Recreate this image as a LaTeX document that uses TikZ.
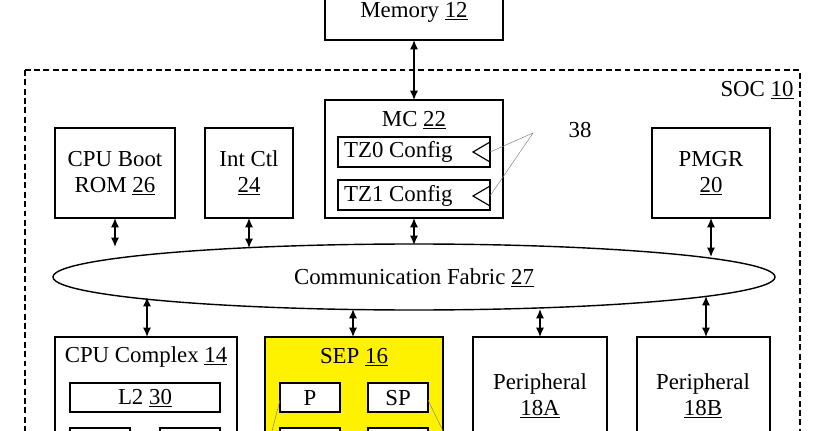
\documentclass[tikz,border=0pt]{standalone}
\usepackage{fontspec}
\setmainfont{Liberation Serif}
\usetikzlibrary{arrows.meta}
\begin{document}
\begin{tikzpicture}[x=0.03cm,y=-0.03cm,
  box/.style={draw,line width=1.2pt,fill=white},
  dbl/.style={{Latex[length=8pt,width=7pt]}-{Latex[length=8pt,width=7pt]},line width=1.2pt},
  lead/.style={draw=gray,thin},
  every node/.style={font=\fontsize{19.5}{22}\selectfont}]
\clip (0,0) rectangle (821,431);
\fill[white] (0,0) rectangle (821,431);
\draw[dash pattern=on 5pt off 3pt,line width=0.9pt] (25,70) rectangle (800,460);
\node at (757,90) {SOC \underline{10}};
\draw[box] (325,-5) rectangle (503,40);
\node (mem) at (414,12) {Memory \underline{12}};
\coordinate (memb) at (414,40);
\draw[box] (325,100) rectangle (503,218);
\coordinate (mct) at (414,100);
\coordinate (mcb) at (414,218);
\node at (414,120) {MC \underline{22}};
\draw[box] (338,137) rectangle (490,167);
\node[anchor=west] at (340,152) {TZ0 Config};
\draw[box] (338,180) rectangle (490,210);
\node[anchor=west] at (340,196) {TZ1 Config};
\draw[line width=1pt] (490,142) -- (473,152) -- (490,162);
\draw[line width=1pt] (490,186) -- (473,196) -- (490,206);
\coordinate (t0) at (490,152);
\coordinate (t1) at (490,196);
\coordinate (l38) at (533,133);
\draw[lead] (t0) -- (l38) -- (t1);
\node at (580,130) {38};
\draw[box] (55,128) rectangle (175,218);
\node[align=center] (rom) at (115,173) {CPU Boot\\ROM \underline{26}};
\draw[box] (205,128) rectangle (293,218);
\node[align=center] (ic) at (249,173) {Int Ctl\\\underline{24}};
\draw[box] (652,128) rectangle (770,218);
\node[align=center] (pm) at (711,173) {PMGR\\\underline{20}};
\draw[line width=1.2pt,fill=white] (414,277) ellipse [x radius=361, y radius=33];
\node at (414,278) {Communication Fabric \underline{27}};
\draw[dbl] (memb) -- (mct);
\draw[dbl] (115,218) -- (115,247);
\draw[dbl] (249,218) -- (249,248);
\draw[dbl] (mcb) -- (414,245);
\draw[dbl] (711,218) -- (711,257);
\draw[dbl] (147,297) -- (147,337);
\draw[dbl] (353,309) -- (353,337);
\draw[dbl] (540,309) -- (540,337);
\draw[dbl] (706,296) -- (706,337);
\draw[box] (55,337) rectangle (237,460);
\node at (146,357) {CPU Complex \underline{14}};
\draw[box] (70,383) rectangle (220,412);
\node at (145,398) {L2 \underline{30}};
\draw[box] (70,428) rectangle (130,460);
\draw[box] (160,428) rectangle (220,460);
\draw[line width=1.2pt,fill=yellow] (265,337) rectangle (443,460);
\node at (354,357) {SEP \underline{16}};
\draw[box] (280,383) rectangle (340,412);
\node at (310,398) {P};
\draw[box] (368,383) rectangle (428,412);
\node at (398,398) {SP};
\draw[box] (280,428) rectangle (340,460);
\draw[box] (368,428) rectangle (428,460);
\draw[lead] (280,400) -- (272,431);
\draw[lead] (428,400) -- (443,431);
\draw[box] (473,337) rectangle (607,460);
\node[align=center] at (540,396) {Peripheral\\\underline{18A}};
\draw[box] (637,337) rectangle (770,460);
\node[align=center] at (703,396) {Peripheral\\\underline{18B}};
\end{tikzpicture}
\end{document}
